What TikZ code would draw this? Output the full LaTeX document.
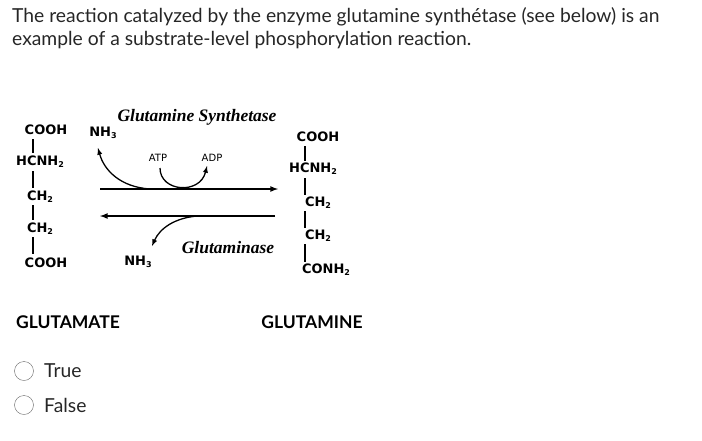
\documentclass[tikz,border=0pt]{standalone}
\usepackage{fontspec}
\setmainfont{Lato}
\newfontfamily\chem{DejaVu Sans}
\newfontfamily\enzfont{Liberation Serif}
\newcommand{\sbs}[1]{\raisebox{-0.3ex}{\footnotesize #1}}
\begin{document}
\begin{tikzpicture}[x=1pt,y=-1pt,
  txt/.style={anchor=west,inner sep=0pt,font=\fontsize{19.3}{22}\selectfont,text=black!85},
  ch/.style={inner sep=1pt,font=\chem\bfseries\fontsize{13}{15}\selectfont},
  enz/.style={inner sep=0pt,font=\enzfont\bfseries\itshape\fontsize{17.5}{20}\selectfont},
  sm/.style={inner sep=0pt,font=\chem\fontsize{10}{12}\selectfont},
  bond/.style={line width=1.2pt},
  rxn/.style={line width=1.6pt,-latex},
  crv/.style={line width=1.3pt,-latex},
  big/.style={inner sep=0pt,font=\bfseries\fontsize{17.5}{20}\selectfont},
  radio/.style={draw=black!60,circle,minimum size=19pt,inner sep=0pt}]
\useasboundingbox (0,0) rectangle (702,440);
\node[txt] (q1) at (12,17) {The reaction catalyzed by the enzyme glutamine synthétase (see below) is an};
\node[txt] (q2) at (12,40) {example of a substrate-level phosphorylation reaction.};
% left column
\node[ch] (l1) at (46,130) {COOH};
\node[ch] (l2) at (40,162) {HCNH\sbs{2}};
\node[ch] (l3) at (40,197) {CH\sbs{2}};
\node[ch] (l4) at (40,229) {CH\sbs{2}};
\node[ch] (l5) at (46,263) {COOH};
\draw[bond] (33,139)--(33,153) (33,171)--(33,188) (33,205)--(33,220) (33,237)--(33,254);
% right column
\node[ch] (r1) at (318,137) {COOH};
\node[ch] (r2) at (313,169) {HCNH\sbs{2}};
\node[ch] (r3) at (318,203) {CH\sbs{2}};
\node[ch] (r4) at (318,236) {CH\sbs{2}};
\node[ch] (r5) at (326,270) {CONH\sbs{2}};
\draw[bond] (305,146)--(305,161) (305,178)--(305,195) (305,211)--(305,228) (305,244)--(305,262);
% labels
\node[enz] (gs) at (197,117) {Glutamine Synthetase};
\node[enz] (ga) at (228,248) {Glutaminase};
\node[ch] (n1) at (103,133) {NH\sbs{3}};
\node[ch] (n2) at (138,262) {NH\sbs{3}};
\node[sm] (atp) at (158,158) {ATP};
\node[sm] (adp) at (212,158) {ADP};
% reaction arrows
\coordinate (f0) at (100,189); \coordinate (f1) at (278,189);
\coordinate (b0) at (275,216); \coordinate (b1) at (100,216);
\draw[rxn] (f0)--(f1);
\draw[rxn] (b0)--(b1);
\draw[crv] (150,189) .. controls (120,187) and (104,170) .. (98,148);
\draw[crv] (160,168) .. controls (160,192) and (200,195) .. (207,166);
\draw[crv] (197,216) .. controls (175,218) and (160,228) .. (152,246);
% names
\node[big] (glu) at (68,322) {GLUTAMATE};
\node[big] (gln) at (312,322) {GLUTAMINE};
% options
\node[radio] (o1) at (24,371) {};
\node[radio] (o2) at (24,405) {};
\node[txt] (t1) at (44,371) {True};
\node[txt] (t2) at (44,405) {False};
\end{tikzpicture}
\end{document}
